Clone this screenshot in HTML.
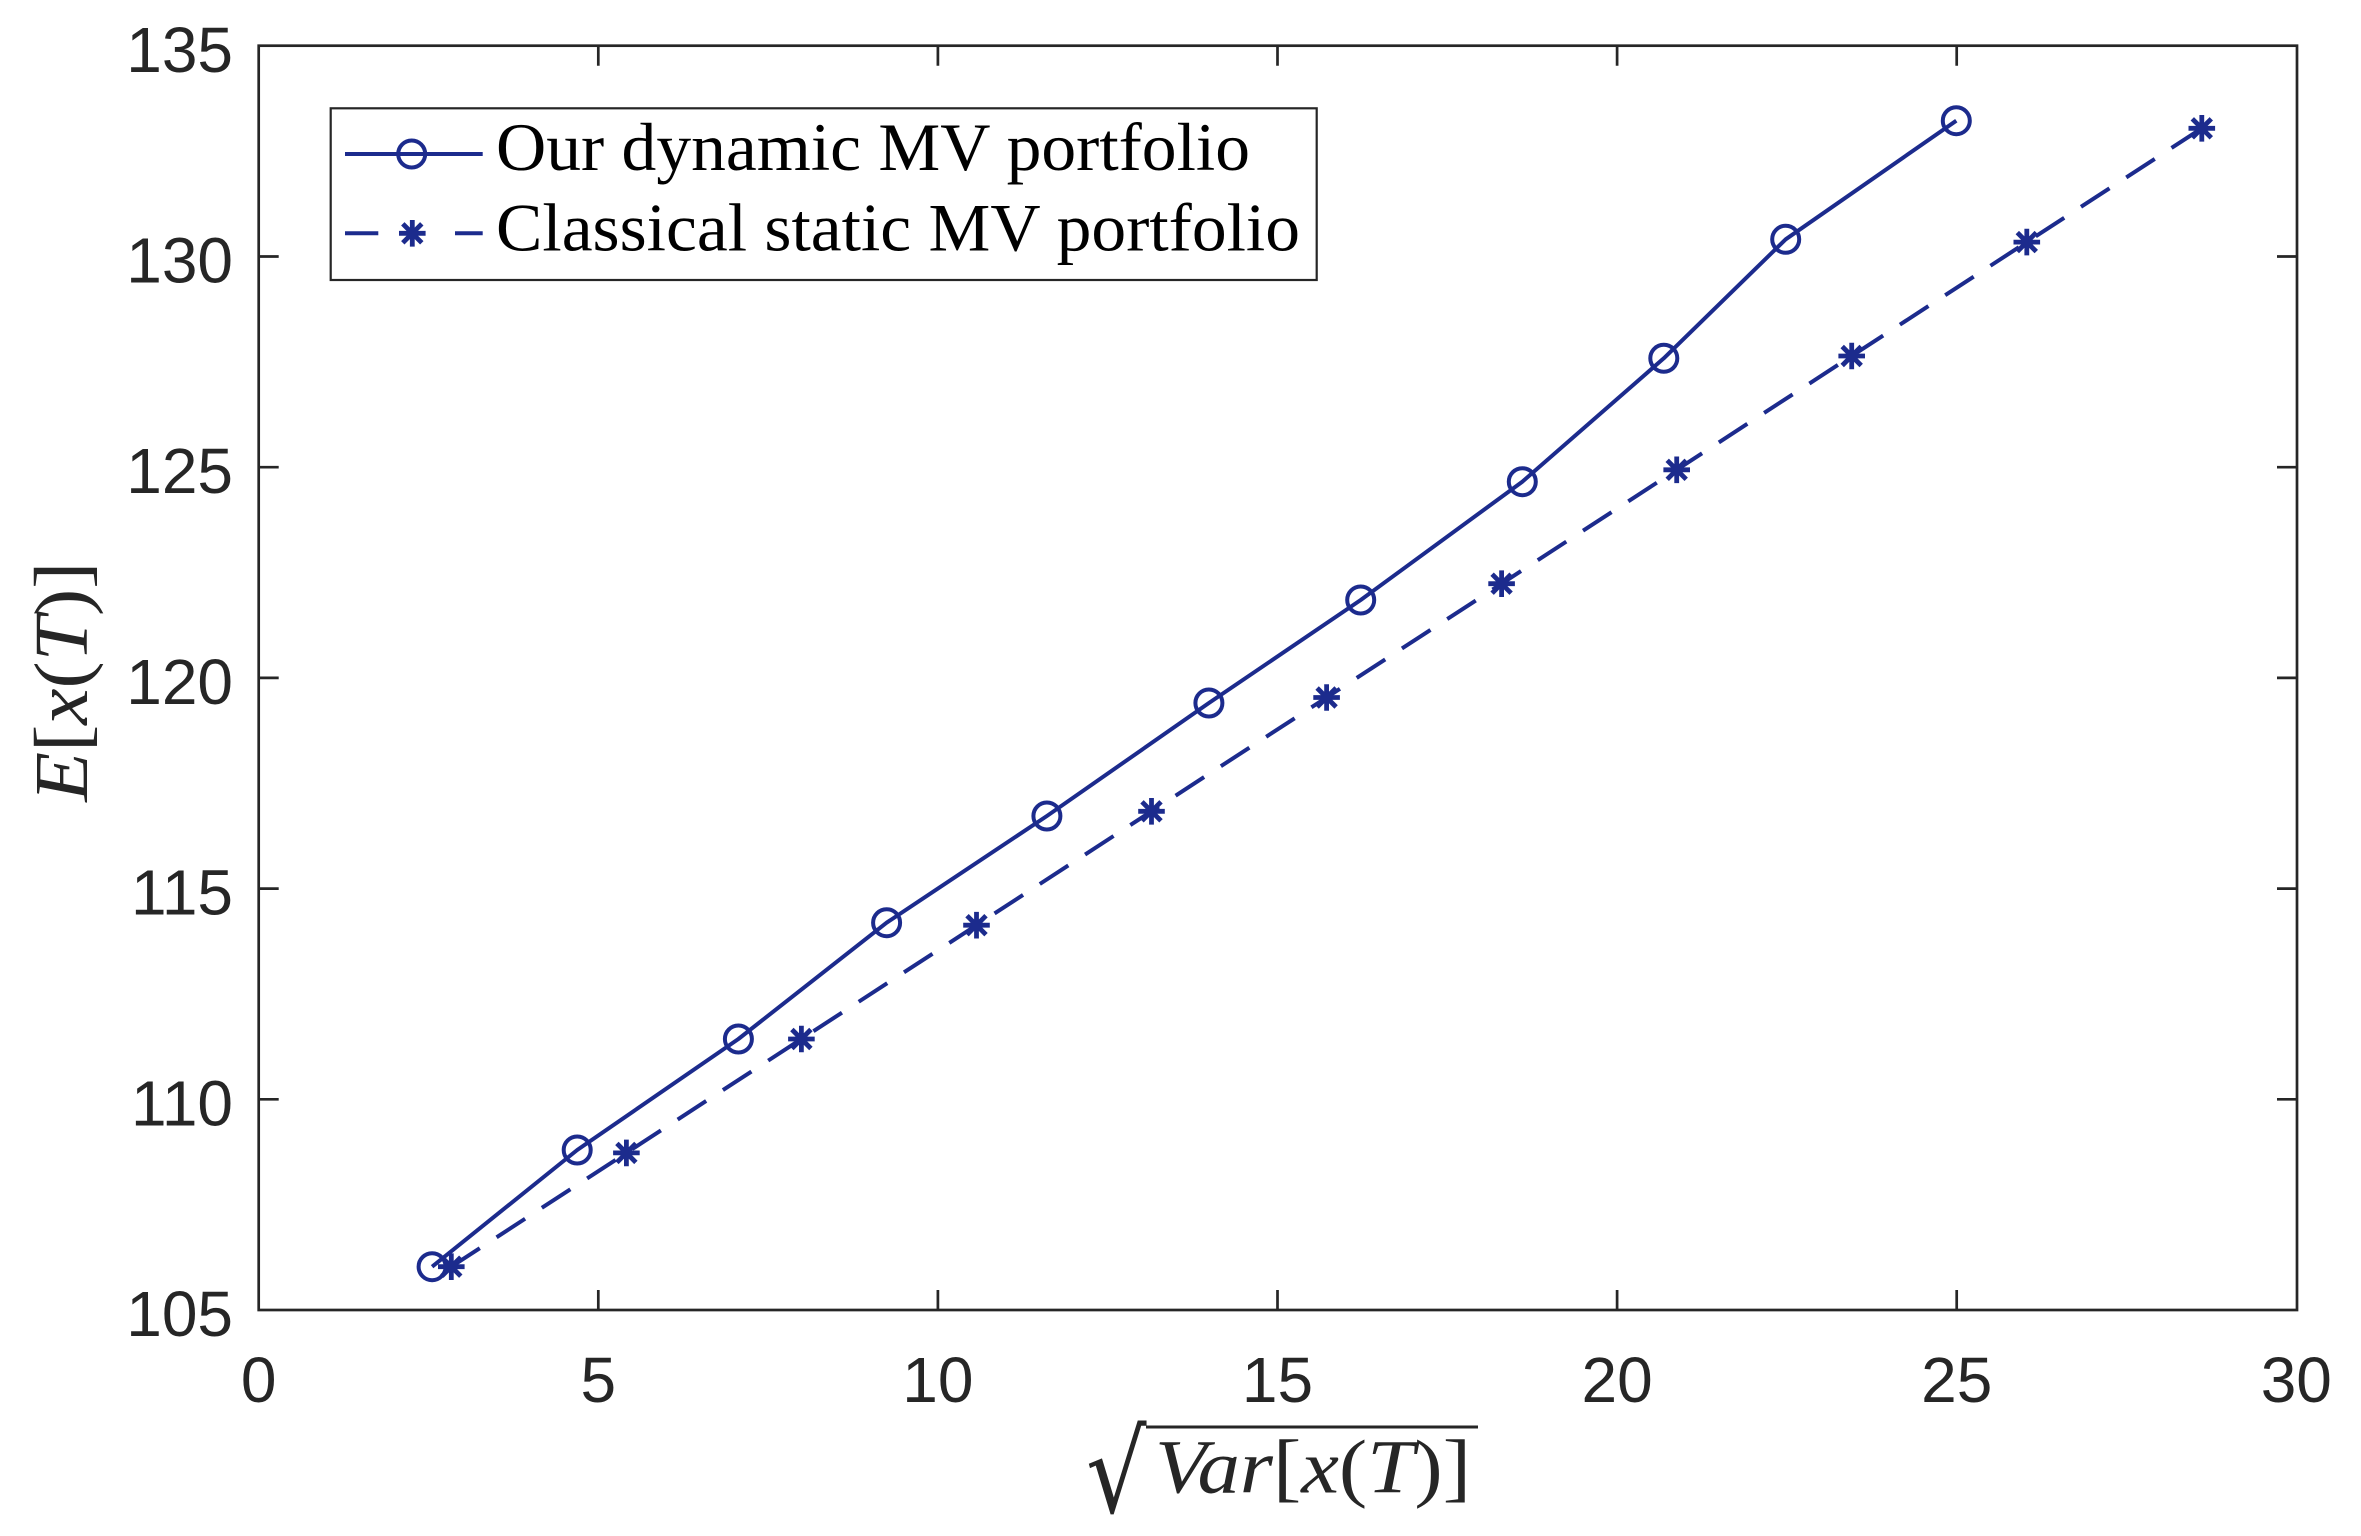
<!DOCTYPE html>
<html><head><meta charset="utf-8"><style>
html,body{margin:0;padding:0;background:#fff;}
svg{display:block;}
</style></head><body>
<svg width="2361" height="1536" viewBox="0 0 2361 1536" xmlns="http://www.w3.org/2000/svg">
<rect x="0" y="0" width="2361" height="1536" fill="#fff"/>
<!-- axes box -->
<rect x="258.7" y="45.7" width="2038.3" height="1264.3" fill="none" stroke="#262626" stroke-width="2.7"/>
<g stroke="#262626" stroke-width="2.7">
<path d="M598.3,1310V1290M937.9,1310V1290M1277.5,1310V1290M1617.1,1310V1290M1956.7,1310V1290
M598.3,45.7V65.7M937.9,45.7V65.7M1277.5,45.7V65.7M1617.1,45.7V65.7M1956.7,45.7V65.7"/>
<path d="M258.7,1099.3H278.7M258.7,888.6H278.7M258.7,677.9H278.7M258.7,467.2H278.7M258.7,256.5H278.7
M2297,1099.3H2277M2297,888.6H2277M2297,677.9H2277M2297,467.2H2277M2297,256.5H2277"/>
</g>
<!-- tick labels -->
<g font-family="Liberation Sans, Arial, sans-serif" font-size="64" fill="#262626">
<g text-anchor="middle">
<text x="258.7" y="1402">0</text>
<text x="598.3" y="1402">5</text>
<text x="937.9" y="1402">10</text>
<text x="1277.5" y="1402">15</text>
<text x="1617.1" y="1402">20</text>
<text x="1956.7" y="1402">25</text>
<text x="2296.3" y="1402">30</text>
</g>
<g text-anchor="end">
<text x="233" y="1336">105</text>
<text x="233" y="1125.3">110</text>
<text x="233" y="914.6">115</text>
<text x="233" y="703.9">120</text>
<text x="233" y="493.2">125</text>
<text x="233" y="282.5">130</text>
<text x="233" y="71.8">135</text>
</g>
</g>
<!-- y label -->
<g transform="translate(87,681.7) rotate(-90)">
<text x="0" y="0" text-anchor="middle" font-family="Liberation Serif, serif" font-size="76" fill="#262626" textLength="240" lengthAdjust="spacingAndGlyphs"><tspan font-style="italic">E</tspan>[<tspan font-style="italic">x</tspan>(<tspan font-style="italic">T</tspan>)]</text>
</g>
<!-- x label -->
<text x="1155" y="1492.7" font-family="Liberation Serif, serif" font-size="76" fill="#262626" textLength="316" lengthAdjust="spacingAndGlyphs"><tspan font-style="italic">Var</tspan>[<tspan font-style="italic">x</tspan>(<tspan font-style="italic">T</tspan>)]</text>
<text x="0" y="0" font-family="DejaVu Sans, sans-serif" font-size="100" fill="#262626" transform="translate(1086,1512) scale(0.95,1.13)">√</text>
<line x1="1146" y1="1427" x2="1478" y2="1427" stroke="#262626" stroke-width="3"/>
<!-- series -->
<g fill="none" stroke="#1c2b8d" stroke-width="4" stroke-linejoin="round">
<polyline points="432.1,1266.7 577.2,1150 738.4,1039 886.6,922.7 1046.9,816 1208.9,703 1360.7,600 1522.3,481.7 1663.8,358.3 1785.7,239.3 1956.3,120.7"/>
<polyline stroke-dasharray="34 20" points="451.3,1266.7 626.4,1152.9 801.4,1039.0 976.5,925.2 1151.5,811.3 1326.6,697.5 1501.6,583.7 1676.7,469.8 1851.7,356.0 2026.8,242.1 2201.8,128.3"/>
<g stroke-width="4">
<circle cx="432.1" cy="1266.7" r="13.5"/>
<circle cx="577.2" cy="1150" r="13.5"/>
<circle cx="738.4" cy="1039" r="13.5"/>
<circle cx="886.6" cy="922.7" r="13.5"/>
<circle cx="1046.9" cy="816" r="13.5"/>
<circle cx="1208.9" cy="703" r="13.5"/>
<circle cx="1360.7" cy="600" r="13.5"/>
<circle cx="1522.3" cy="481.7" r="13.5"/>
<circle cx="1663.8" cy="358.3" r="13.5"/>
<circle cx="1785.7" cy="239.3" r="13.5"/>
<circle cx="1956.3" cy="120.7" r="13.5"/>
</g>
<g stroke-width="4.8" stroke-linecap="butt">
<path transform="translate(451.3,1266.7)" d="M0,-13.3V13.3M-13.3,0H13.3M-9.5,-9.5L9.5,9.5M-9.5,9.5L9.5,-9.5"/>
<path transform="translate(626.4,1152.9)" d="M0,-13.3V13.3M-13.3,0H13.3M-9.5,-9.5L9.5,9.5M-9.5,9.5L9.5,-9.5"/>
<path transform="translate(801.4,1039.0)" d="M0,-13.3V13.3M-13.3,0H13.3M-9.5,-9.5L9.5,9.5M-9.5,9.5L9.5,-9.5"/>
<path transform="translate(976.5,925.2)" d="M0,-13.3V13.3M-13.3,0H13.3M-9.5,-9.5L9.5,9.5M-9.5,9.5L9.5,-9.5"/>
<path transform="translate(1151.5,811.3)" d="M0,-13.3V13.3M-13.3,0H13.3M-9.5,-9.5L9.5,9.5M-9.5,9.5L9.5,-9.5"/>
<path transform="translate(1326.6,697.5)" d="M0,-13.3V13.3M-13.3,0H13.3M-9.5,-9.5L9.5,9.5M-9.5,9.5L9.5,-9.5"/>
<path transform="translate(1501.6,583.7)" d="M0,-13.3V13.3M-13.3,0H13.3M-9.5,-9.5L9.5,9.5M-9.5,9.5L9.5,-9.5"/>
<path transform="translate(1676.7,469.8)" d="M0,-13.3V13.3M-13.3,0H13.3M-9.5,-9.5L9.5,9.5M-9.5,9.5L9.5,-9.5"/>
<path transform="translate(1851.7,356.0)" d="M0,-13.3V13.3M-13.3,0H13.3M-9.5,-9.5L9.5,9.5M-9.5,9.5L9.5,-9.5"/>
<path transform="translate(2026.8,242.1)" d="M0,-13.3V13.3M-13.3,0H13.3M-9.5,-9.5L9.5,9.5M-9.5,9.5L9.5,-9.5"/>
<path transform="translate(2201.8,128.3)" d="M0,-13.3V13.3M-13.3,0H13.3M-9.5,-9.5L9.5,9.5M-9.5,9.5L9.5,-9.5"/>
</g>
</g>
<!-- legend -->
<rect x="330.7" y="108.3" width="986" height="171.7" fill="#fff" stroke="#262626" stroke-width="2.2"/>
<g fill="none" stroke="#1c2b8d" stroke-width="4">
<line x1="345" y1="154" x2="482.7" y2="154"/>
<circle cx="411.7" cy="154" r="13.5" stroke-width="4"/>
<line x1="345" y1="233.3" x2="378.3" y2="233.3"/>
<line x1="455" y1="233.3" x2="482.7" y2="233.3"/>
<path transform="translate(412.3,233.3)" stroke-width="4.8" d="M0,-13.3V13.3M-13.3,0H13.3M-9.5,-9.5L9.5,9.5M-9.5,9.5L9.5,-9.5"/>
</g>
<g font-family="Liberation Serif, serif" font-size="68" fill="#000">
<text x="496" y="170" textLength="754" lengthAdjust="spacingAndGlyphs">Our dynamic MV portfolio</text>
<text x="496" y="250.7" textLength="804" lengthAdjust="spacingAndGlyphs">Classical static MV portfolio</text>
</g>
</svg>
</body></html>
